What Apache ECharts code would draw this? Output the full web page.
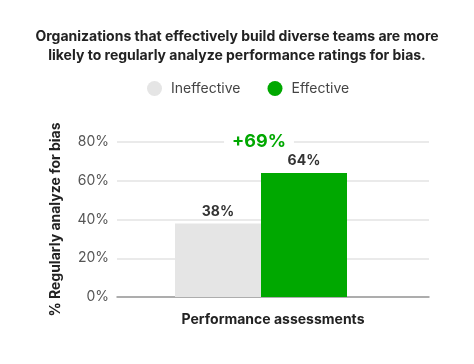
<!DOCTYPE html>
<html><head><meta charset="utf-8">
<script src="https://cdn.jsdelivr.net/npm/echarts@6/dist/echarts.min.js"></script>
<style>html,body{margin:0;padding:0;background:#fff}#c{width:474px;height:364px}</style>
</head><body><div id="c"></div>
<script>
const titleText = 'Organizations that effectively build diverse teams are more\nlikely to regularly analyze performance ratings for bias.';
const categories = ['Performance assessments'];
const seriesNames = ['Ineffective', 'Effective'];
const ineffective = [38];
const effective = [64];
const yTicks = [0, 20, 40, 60, 80];
const annotation = '+69%';
const FONT = 'Inter, "Noto Sans", sans-serif';

const chart = echarts.init(document.getElementById('c'), null, {renderer: 'canvas'});
const option = {
  animation: false,
  textStyle: {fontFamily: FONT},
  title: {
    text: titleText, left: 'center', top: 22,
    textStyle: {fontFamily: FONT, fontSize: 14, fontWeight: 'bold', color: '#222', lineHeight: 19}
  },
  legend: {
    data: seriesNames, top: 76, left: 142, itemGap: 27,
    icon: 'circle', itemWidth: 15, itemHeight: 15,
    textStyle: {fontFamily: FONT, fontSize: 14, color: '#444', padding: [0, 0, 0, 4]}
  },
  grid: {left: 117, right: 45, top: 142, bottom: 67, containLabel: false},
  xAxis: {
    type: 'category', data: categories,
    axisTick: {show: false}, axisLabel: {show: false},
    axisLine: {lineStyle: {color: '#999', width: 1.5}},
    name: categories[0], nameLocation: 'middle', nameGap: 16,
    nameTextStyle: {fontFamily: FONT, fontSize: 14, fontWeight: 'bold', color: '#222'}
  },
  yAxis: {
    type: 'value', min: yTicks[0], max: yTicks[yTicks.length - 1], interval: 20,
    axisLabel: {formatter: '{value}%', fontFamily: FONT, fontSize: 14, color: '#555', margin: 8},
    splitLine: {lineStyle: {color: '#e3e3e3', width: 1.5}},
    axisLine: {show: false}, axisTick: {show: false},
    name: '% Regularly analyze for bias', nameLocation: 'middle', nameGap: 54,
    nameTextStyle: {fontFamily: FONT, fontSize: 14, fontWeight: 'bold', color: '#222'}
  },
  series: [
    {
      name: seriesNames[0], type: 'bar', data: ineffective, barWidth: 86, barGap: '0%',
      itemStyle: {color: '#e5e5e5'},
      label: {show: true, position: 'top', formatter: '{c}%', fontFamily: FONT, fontSize: 14, fontWeight: 'bold', color: '#333', distance: 5}
    },
    {
      name: seriesNames[1], type: 'bar', data: effective, barWidth: 86, barGap: '0%',
      itemStyle: {color: '#00a800'},
      label: {show: true, position: 'top', formatter: '{c}%', fontFamily: FONT, fontSize: 14, fontWeight: 'bold', color: '#333', distance: 5}
    },
    {
      name: 'spacer', type: 'bar', data: [null], barWidth: 24, barGap: '0%', silent: true,
      itemStyle: {color: 'rgba(0,0,0,0)'}
    }
  ]
};
chart.setOption(option);
const p1 = chart.convertToPixel({seriesIndex: 0}, [0, yTicks[4]]);
const l0 = chart.getModel().getSeriesByIndex(0).getData().getItemLayout(0);
const l1 = chart.getModel().getSeriesByIndex(1).getData().getItemLayout(0);
const cx = (l0.x + l1.x + l1.width) / 2 - 2;
chart.setOption({
  graphic: [{
    type: 'text', x: cx, y: p1[1], z: 100,
    style: {
      text: annotation, align: 'center', verticalAlign: 'middle',
      font: 'bold 18px ' + FONT, fill: '#00a800',
      backgroundColor: '#fff', padding: [2, 8]
    }
  }]
});
</script></body></html>
